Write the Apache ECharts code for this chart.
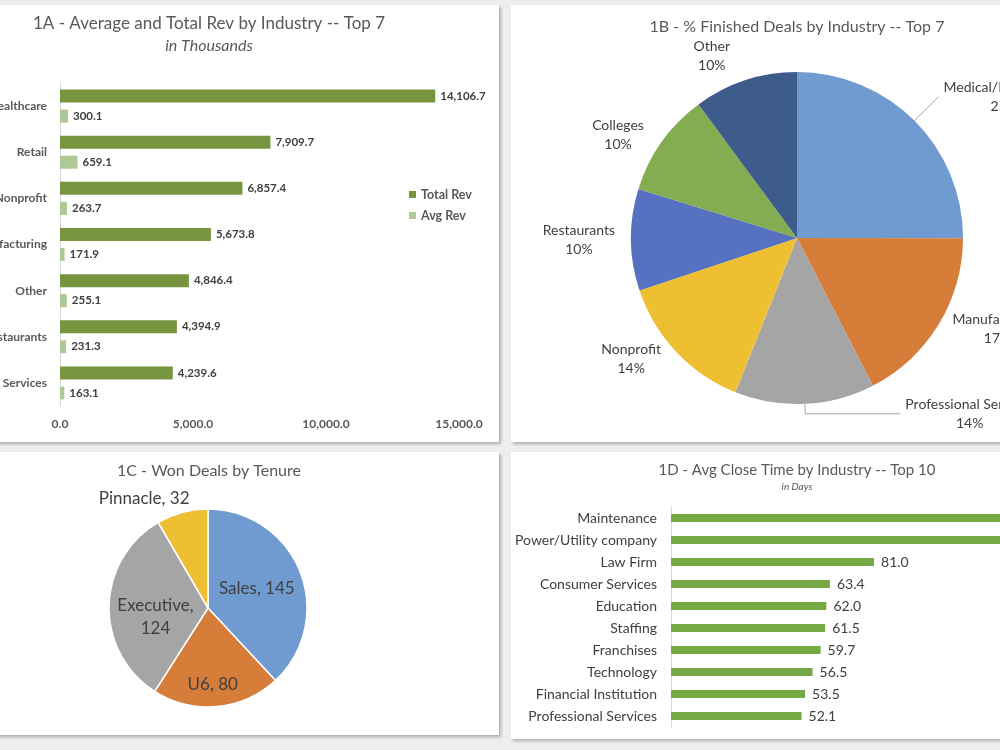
<!DOCTYPE html>
<html><head><meta charset="utf-8">
<script src="https://cdn.jsdelivr.net/npm/echarts@6/dist/echarts.min.js"></script>
<style>
html,body{margin:0;padding:0;width:1000px;height:750px;overflow:hidden;background:#eeeeee;}
.panel{position:absolute;background:#fff;box-shadow:2px 2px 3px rgba(0,0,0,0.28);}
</style></head><body>
<div id="c1" class="panel" style="left:-81px;top:5px;width:580px;height:437px"></div>
<div id="c2" class="panel" style="left:511px;top:5px;width:572px;height:437px"></div>
<div id="c3" class="panel" style="left:-81px;top:452px;width:580px;height:283px"></div>
<div id="c4" class="panel" style="left:511px;top:452px;width:572px;height:287px"></div>
<script>
// ---- 1A data ----
const revCategories = ['Medical/Healthcare','Retail','Nonprofit','Manufacturing','Other','Restaurants','Professional Services'];
const totalRev = [14106.7, 7909.7, 6857.4, 5673.8, 4846.4, 4394.9, 4239.6];
const avgRev = [300.1, 659.1, 263.7, 171.9, 255.1, 231.3, 163.1];
const revTicks = [0, 5000, 10000, 15000];
// ---- 1B data ----
const dealIndustries = ['Medical/Healthcare','Manufacturing','Professional Services','Nonprofit','Restaurants','Colleges','Other'];
const dealShares = [25.0, 17.4, 13.6, 13.8, 9.9, 10.1, 10.1];
const dealColors = ['#6F9BD1','#D67D3A','#A5A5A5','#EEBF33','#5571C0','#84AC50','#3D5C8B'];
// ---- 1C data ----
const tenureNames = ['Sales','U6','Executive','Pinnacle'];
const tenureWon = [145, 80, 124, 32];
const tenureColors = ['#6F9BD1','#D67D3A','#A5A5A5','#EEBF33'];
// ---- 1D data ----
const closeIndustries = ['Maintenance','Power/Utility company','Law Firm','Consumer Services','Education','Staffing','Franchises','Technology','Financial Institution','Professional Services'];
const closeDays = [152.4, 139.6, 81.0, 63.4, 62.0, 61.5, 59.7, 56.5, 53.5, 52.1];

const FONT = 'Lato, "Open Sans", sans-serif';
const fmt1 = v => Number(v).toLocaleString('en-US',{minimumFractionDigits:1, maximumFractionDigits:1});

// 1A
echarts.init(document.getElementById('c1')).setOption({
  animation:false,
  textStyle:{fontFamily:FONT},
  title:{text:'1A - Average and Total Rev by Industry -- Top 7', subtext:'in Thousands', left:'center', top:5, itemGap:6,
    textStyle:{fontFamily:FONT, fontSize:17, fontWeight:'normal', color:'#595959'},
    subtextStyle:{fontFamily:FONT, fontSize:16, fontStyle:'italic', color:'#595959'}},
  legend:{orient:'vertical', left:485, top:178, icon:'rect', itemWidth:7, itemHeight:7, itemGap:8,
    textStyle:{fontFamily:FONT, fontSize:12.5, fontWeight:'bold', color:'#595959'}},
  grid:{left:141, top:78, width:399, height:323},
  xAxis:{type:'value', min:revTicks[0], max:revTicks[revTicks.length-1], interval:revTicks[1]-revTicks[0],
    axisLine:{show:false}, axisTick:{show:false}, splitLine:{show:false},
    axisLabel:{margin:12, fontFamily:FONT, fontSize:12, fontWeight:'bold', color:'#595959', formatter:fmt1}},
  yAxis:{type:'category', inverse:true, data:revCategories,
    axisLine:{lineStyle:{color:'#d9d9d9'}}, axisTick:{show:false},
    axisLabel:{margin:13, fontFamily:FONT, fontSize:12, fontWeight:'bold', color:'#595959'}},
  series:[
    {name:'Total Rev', type:'bar', data:totalRev, barWidth:13, barGap:'54%', itemStyle:{color:'#76953E'},
      label:{show:true, position:'right', distance:5, fontFamily:FONT, fontSize:11.5, fontWeight:'bold', color:'#404040', formatter:p=>fmt1(p.value)}},
    {name:'Avg Rev', type:'bar', data:avgRev, barWidth:13, barGap:'54%', itemStyle:{color:'#AEC993'},
      label:{show:true, position:'right', distance:5, fontFamily:FONT, fontSize:11.5, fontWeight:'bold', color:'#404040', formatter:p=>fmt1(p.value)}}
  ]
});

// 1B
const lineFor = {
  'Medical/Healthcare':{show:true, length:34, length2:0},
  'Manufacturing':{show:false, length:8, length2:2},
  'Professional Services':{show:true, length:10, length2:95},
  'Nonprofit':{show:false, length:10, length2:3},
  'Restaurants':{show:false, length:8, length2:3},
  'Colleges':{show:false, length:12, length2:3},
  'Other':{show:false, length:26, length2:2}
};
echarts.init(document.getElementById('c2')).setOption({
  animation:false,
  textStyle:{fontFamily:FONT},
  title:{text:'1B - % Finished Deals by Industry -- Top 7', left:'center', top:9,
    textStyle:{fontFamily:FONT, fontSize:16, fontWeight:'normal', color:'#595959'}},
  series:[{type:'pie', center:[286,233], radius:166, startAngle:90, clockwise:true, percentPrecision:0,
    avoidLabelOverlap:false,
    data:dealIndustries.map((n,i)=>({name:n, value:dealShares[i], itemStyle:{color:dealColors[i]}, labelLine:lineFor[n]})),
    label:{position:'outside', fontFamily:FONT, fontSize:14, color:'#404040', lineHeight:19,
      formatter:'{n|{b}}\n{n|{d}%}', rich:{n:{align:'center', fontFamily:FONT, fontSize:14, color:'#404040', lineHeight:19}}},
    labelLine:{lineStyle:{color:'#a6a6a6', width:1}},
    emphasis:{disabled:true}
  }]
});

// 1C
echarts.init(document.getElementById('c3')).setOption({
  animation:false,
  textStyle:{fontFamily:FONT},
  title:{text:'1C - Won Deals by Tenure', left:'center', top:6,
    textStyle:{fontFamily:FONT, fontSize:16, fontWeight:'normal', color:'#595959'}},
  series:[{type:'pie', center:[289,156], radius:99, startAngle:90, clockwise:true, avoidLabelOverlap:false,
    itemStyle:{borderColor:'#fff', borderWidth:1.5},
    data:tenureNames.map((n,i)=>{
      const d = {name:n, value:tenureWon[i], itemStyle:{color:tenureColors[i]}};
      if (n==='Executive') d.label = {formatter:'{b},\n{c}'};
      if (n==='Pinnacle') { d.label = {position:'outside'}; d.labelLine = {show:false, length:14, length2:0}; }
      return d;
    }),
    label:{position:'inside', formatter:'{b}, {c}', fontFamily:FONT, fontSize:17, color:'#404040', lineHeight:23},
    labelLayout:function(p){
      if (p.dataIndex===1) return {dy:24};
      if (p.dataIndex===2) return {dy:10};
      if (p.dataIndex===3) return {dx:16};
      return {};
    },
    emphasis:{disabled:true}
  }]
});

// 1D
echarts.init(document.getElementById('c4')).setOption({
  animation:false,
  textStyle:{fontFamily:FONT},
  title:{text:'1D - Avg Close Time by Industry -- Top 10', subtext:'in Days', left:'center', top:6, itemGap:4,
    textStyle:{fontFamily:FONT, fontSize:15, fontWeight:'normal', color:'#595959'},
    subtextStyle:{fontFamily:FONT, fontSize:10, fontStyle:'italic', color:'#595959'}},
  grid:{left:160, top:55, width:401, height:220},
  xAxis:{type:'value', min:0, max:160, show:false},
  yAxis:{type:'category', inverse:true, data:closeIndustries,
    axisLine:{lineStyle:{color:'#d9d9d9'}}, axisTick:{show:false},
    axisLabel:{margin:14, fontFamily:FONT, fontSize:14, color:'#404040'}},
  series:[{type:'bar', data:closeDays, barWidth:8, itemStyle:{color:'#76AA46'},
    label:{show:true, position:'right', distance:7, fontFamily:FONT, fontSize:14, color:'#404040', formatter:p=>fmt1(p.value)}}]
});
</script>
</body></html>
